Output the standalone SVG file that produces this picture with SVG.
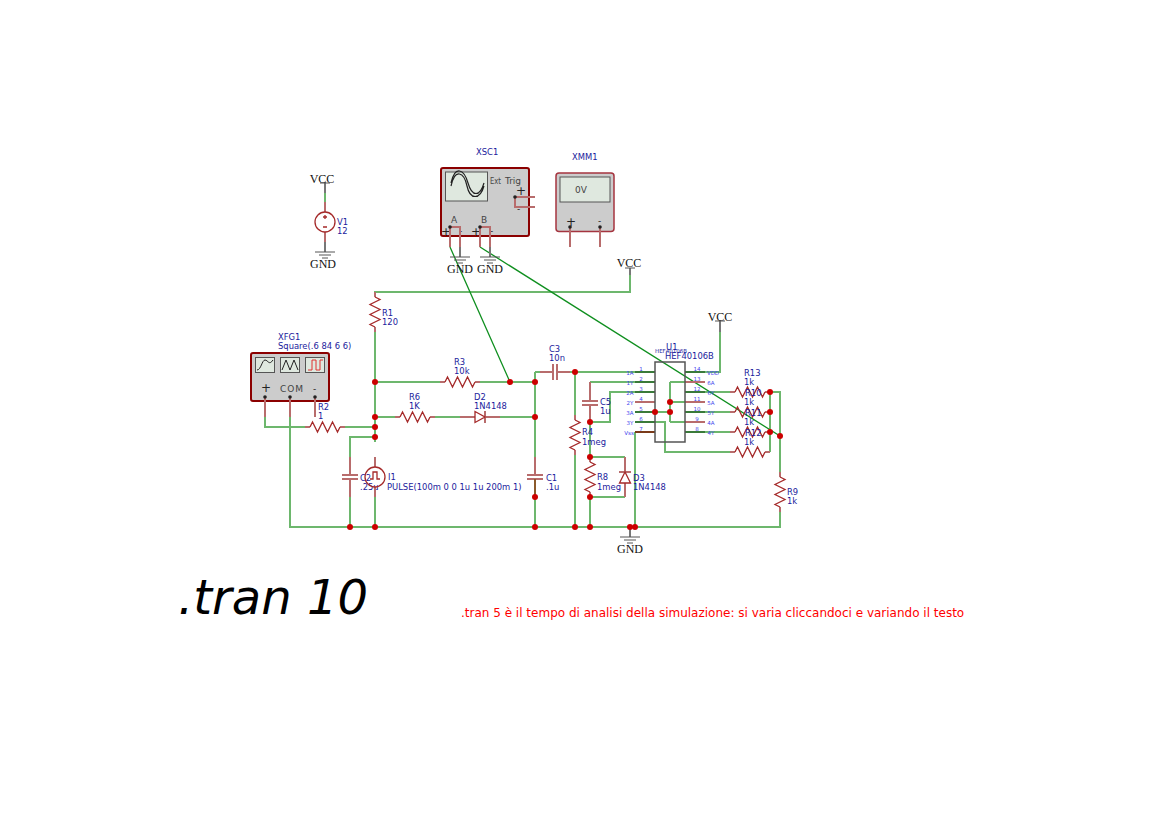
<svg xmlns="http://www.w3.org/2000/svg" xmlns:xlink="http://www.w3.org/1999/xlink" width="1169" height="828" viewBox="0 0 1169 828">
<style>
text{font-family:"DejaVu Sans",sans-serif;font-size:8.4px;fill:#1a1a9c}
.s{font-family:"Liberation Serif",serif;font-size:12px;fill:#111;text-anchor:middle}
.d{font-size:9px;fill:#444}
.n{font-size:5.5px;fill:#4444ee;text-anchor:middle}
.w{fill:none;stroke:#6db76d;stroke-width:2}
.t{fill:none;stroke:#0f8f1f;stroke-width:1.300}
.p{fill:none;stroke:#b86c6c;stroke-width:2}
.z{fill:none;stroke:#a52a2a;stroke-width:1.300}
.g{fill:none;stroke:#777;stroke-width:2}
.b{fill:none;stroke:#555;stroke-width:1}
.dp{fill:none;stroke:#3a7a3a;stroke-width:2}
.c{fill:#cc0000}
.k{fill:#222}
.i{fill:#ccc;stroke:#8b0000;stroke-width:2}
.sc{fill:#dfe8df;stroke:#555;stroke-width:1}
</style>
<defs>
<g id="res"><path d="M-5 0H0M30 0H35" class="p"/><path d="M0 0l2.500-5 5 10 5-10 5 10 5-10 5 10 2.500-5" class="z"/></g>
<g id="gnd"><path d="M-10 0H10M-6 3H6M-3 6H3" class="b"/></g>
</defs>
<rect width="1169" height="828" fill="#fff"/>
<g id="connectors">
<path class="w" d="M325 193V202M630 275V292H375V297M375 332V442M375 382H440M480 382H535M375 417H395M435 417H460M500 417H535M535 372V457M535 372H540M535 497V527M290 417V527H780V512M265 417V427H305M345 427H375M375 437H350V457M350 497V527M375 497V527"/>
<path class="w" d="M570 372H635M575 372V415M575 455V527M590 382H635M590 422H610V392H635M590 422V457H625M590 497H625M590 497V527M635 432V527M655 412H670M670 382V422M670 382H685M670 402H685M670 422H685M705 372H720V332M705 392H730M705 412H730M705 432H730M655 422H665V452H730M770 392V452M770 392H780V472"/>
<path class="t" d="M450 247L510 382M480 247L780 436"/>
<path class="g" d="M325 182V193M325 242V252M460 247V257M490 247V257M630 527V537M720 320V332M630 268V275"/>
</g>
<g id="V1"><path class="p" d="M325 202V212M325 232V242"/><circle cx="325" cy="222" r="10" fill="#fff" class="z"/><path class="z" d="M325 215V219M323 217H327M323 227H327"/><text x="337" y="225">V1</text><text x="337" y="234">12</text></g>
<g id="VCC1"><text class="s" x="322" y="183">VCC</text><path class="b" d="M320 183H330"/></g>
<g id="GND1"><use xlink:href="#gnd" x="325" y="252"/><text class="s" x="323" y="268">GND</text></g>
<g id="XSC1"><text x="476" y="155">XSC1</text><rect x="441" y="168" width="88" height="68" rx="2" class="i"/><rect x="445.500" y="172" width="42" height="29" class="sc"/><path d="M451 186C455 168 464 172 467 186S480 200 484 186M451 183C455 165 464 169 468 183S480 197 484 183" fill="none" stroke="#222" stroke-width="1.200"/><text class="d" x="490" y="184" textLength="11" lengthAdjust="spacingAndGlyphs">Ext</text><text class="d" x="505" y="184" textLength="16">Trig</text><text x="516" y="195" style="font-size:12px;fill:#222">+</text><text x="517" y="212" style="font-size:9px;fill:#222">-</text><text class="d" x="451" y="223">A</text><text class="d" x="481" y="223">B</text><text x="441" y="236" style="font-size:12px;fill:#222">+</text><text x="459" y="234" style="font-size:9px;fill:#222">-</text><text x="471" y="236" style="font-size:12px;fill:#222">+</text><text x="490" y="234" style="font-size:9px;fill:#222">-</text><path class="p" d="M515 197H535M515 197V207H535M450 227V247M450 227H460V247M480 227V247M480 227H490V247"/><circle cx="515" cy="197" r="1.800" class="k"/><circle cx="450" cy="227" r="1.800" class="k"/><circle cx="480" cy="227" r="1.800" class="k"/></g>
<g id="GND2"><use xlink:href="#gnd" x="460" y="257"/><text class="s" x="460" y="273">GND</text></g>
<g id="GND3"><use xlink:href="#gnd" x="490" y="257"/><text class="s" x="490" y="273">GND</text></g>
<g id="XMM1"><text x="572" y="160">XMM1</text><rect x="556" y="173" width="58" height="58.500" rx="3" fill="#ccc" stroke="#a5343f" stroke-width="1.500"/><rect x="560" y="177" width="50" height="25" class="sc"/><text class="d" x="575" y="193">0V</text><text x="566" y="226" style="font-size:12px;fill:#222">+</text><text x="598" y="224" style="font-size:9px;fill:#222">-</text><path class="p" d="M570 227V247M600 227V247"/><circle cx="570" cy="227" r="1.800" class="k"/><circle cx="600" cy="227" r="1.800" class="k"/></g>
<g id="VCC2"><text class="s" x="629" y="267">VCC</text><path class="b" d="M625 268H635"/></g>
<g id="R1"><use xlink:href="#res" transform="translate(375 297) rotate(90)"/><text x="382" y="316">R1</text><text x="382" y="325">120</text></g>
<g id="XFG1"><text x="278" y="340">XFG1</text><text x="278" y="349">Square(.6 84 6 6)</text><rect x="251" y="353" width="78" height="48" rx="2" class="i"/><rect x="255.500" y="357.500" width="19" height="15" class="sc"/><rect x="280.500" y="357.500" width="19" height="15" class="sc"/><rect x="305.500" y="357.500" width="19" height="15" class="sc"/><path d="M257 370C261 370 262 360 265 360S269 366 273 360" fill="none" stroke="#222"/><path d="M282 370L286 360L290 370L294 360L298 370" fill="none" stroke="#222"/><path d="M308 370H312V360H316V370H320V360H323" fill="none" stroke="#e03030"/><text x="261" y="392" style="font-size:12px;fill:#222">+</text><text class="d" x="280" y="392" textLength="23">COM</text><text x="313" y="392" style="font-size:9px;fill:#222">-</text><path class="p" d="M265 397V417M290 397V417M315 397V417"/><circle cx="265" cy="397" r="1.800" class="k"/><circle cx="290" cy="397" r="1.800" class="k"/><circle cx="315" cy="397" r="1.800" class="k"/></g>
<g id="R2"><use xlink:href="#res" x="310" y="427"/><text x="318" y="410">R2</text><text x="318" y="419">1</text></g>
<g id="R3"><use xlink:href="#res" x="445" y="382"/><text x="454" y="365">R3</text><text x="454" y="374">10k</text></g>
<g id="R6"><use xlink:href="#res" x="400" y="417"/><text x="409" y="400">R6</text><text x="409" y="409">1K</text></g>
<g id="D2"><path class="p" d="M460 417H475M485 417H500M485 411V423"/><path class="z" d="M475 411.500L485 417L475 422.500Z" fill="#fff"/><text x="474" y="400">D2</text><text x="474" y="409">1N4148</text></g>
<g id="C2"><path class="p" d="M350 457V475M350 479V497M342 475H358M342 479H358"/><text x="360" y="481">C2</text><text x="360" y="490">.25u</text></g>
<g id="I1"><path class="p" d="M375 457V467M375 487V497"/><path class="z" d="M370 479H373V472H377V479H380"/><circle cx="375" cy="477" r="10" class="z"/><text x="388" y="480">I1</text><text x="387" y="490">PULSE(100m 0 0 1u 1u 200m 1)</text></g>
<g id="C1"><path class="p" d="M535 457V475M527 475H543M527 479H543"/><path d="M535 479V497" fill="none" stroke="#8b5a2b" stroke-width="2"/><text x="546" y="481">C1</text><text x="546" y="490">.1u</text></g>
<g id="C3"><path class="p" d="M540 372H553M557 372H570M553 364V380M557 364V380"/><text x="549" y="352">C3</text><text x="549" y="361">10n</text></g>
<g id="C5"><path class="p" d="M590 382V401M590 405V422M582 401H598M582 405H598"/><text x="600" y="405">C5</text><text x="600" y="414">1u</text></g>
<g id="R4"><use xlink:href="#res" transform="translate(575 420) rotate(90)"/><text x="582" y="435">R4</text><text x="582" y="445">1meg</text></g>
<g id="R8"><use xlink:href="#res" transform="translate(590 462) rotate(90)"/><text x="597" y="480">R8</text><text x="597" y="490">1meg</text></g>
<g id="D3"><path class="p" d="M625 457V472M625 483V497M619 472H631"/><path class="z" d="M625 472L619.500 483H630.500Z"/><text x="633" y="481">D3</text><text x="633" y="490">1N4148</text></g>
<g id="U1">
<text x="666" y="350">U1</text><text x="655" y="353" style="font-size:5.500px">HEF40106B</text><text x="665" y="359">HEF40106B</text>
<path class="dp" d="M635 372H655M635 382H655M635 392H655M635 412H655M635 422H655M685 372H705M685 392H705M685 412H705M685 432H705"/>
<path class="p" d="M635 402H655M685 382H705M685 402H705M685 422H705"/>
<path d="M635 432H655" fill="none" stroke="#7a3a1a" stroke-width="2"/>
<rect x="655" y="362" width="30" height="80" fill="none" stroke="#555" stroke-width="1.500"/>
<text class="n" x="641" y="371">1</text><text class="n" x="641" y="381">2</text><text class="n" x="641" y="391">3</text><text class="n" x="641" y="401">4</text><text class="n" x="641" y="411">5</text><text class="n" x="641" y="421">6</text><text class="n" x="641" y="431">7</text>
<text class="n" x="697" y="371">14</text><text class="n" x="697" y="381">13</text><text class="n" x="697" y="391">12</text><text class="n" x="697" y="401">11</text><text class="n" x="697" y="411">10</text><text class="n" x="697" y="421">9</text><text class="n" x="697" y="431">8</text>
<text class="n" x="630" y="375">1A</text><text class="n" x="630" y="385">1Y</text><text class="n" x="630" y="395">2A</text><text class="n" x="630" y="405">2Y</text><text class="n" x="630" y="415">3A</text><text class="n" x="630" y="425">3Y</text><text class="n" x="629" y="435">Vss</text>
<text class="n" x="713" y="375">VDD</text><text class="n" x="711" y="385">6A</text><text class="n" x="711" y="395">6Y</text><text class="n" x="711" y="405">5A</text><text class="n" x="711" y="415">5Y</text><text class="n" x="711" y="425">4A</text><text class="n" x="711" y="435">4Y</text></g>
<g id="VCC3"><text class="s" x="720" y="321">VCC</text><path class="b" d="M715 321H725"/></g>
<g id="R10"><use xlink:href="#res" x="735" y="392"/><text x="745" y="396">R10</text><text x="744" y="405">1k</text></g>
<g id="R11"><use xlink:href="#res" x="735" y="412"/><text x="745" y="416">R11</text><text x="744" y="425">1k</text></g>
<g id="R12"><use xlink:href="#res" x="735" y="432"/><text x="745" y="436">R12</text><text x="744" y="445">1k</text></g>
<g id="R13"><use xlink:href="#res" x="735" y="452"/><text x="744" y="376">R13</text><text x="744" y="385">1k</text></g>
<g id="R9"><use xlink:href="#res" transform="translate(780 477) rotate(90)"/><text x="787" y="495">R9</text><text x="787" y="504">1k</text></g>
<g id="GND4"><use xlink:href="#gnd" x="630" y="537"/><text class="s" x="630" y="553">GND</text></g>
<g id="junctions">
<circle class="c" cx="375" cy="382" r="3"/><circle class="c" cx="375" cy="417" r="3"/><circle class="c" cx="375" cy="427" r="3"/><circle class="c" cx="375" cy="437" r="3"/><circle class="c" cx="510" cy="382" r="3"/><circle class="c" cx="535" cy="382" r="3"/><circle class="c" cx="535" cy="417" r="3"/><circle class="c" cx="535" cy="497" r="3"/><circle class="c" cx="350" cy="527" r="3"/><circle class="c" cx="375" cy="527" r="3"/><circle class="c" cx="535" cy="527" r="3"/><circle class="c" cx="575" cy="527" r="3"/><circle class="c" cx="590" cy="527" r="3"/><circle class="c" cx="630" cy="527" r="3"/><circle class="c" cx="635" cy="527" r="3"/><circle class="c" cx="575" cy="372" r="3"/><circle class="c" cx="590" cy="422" r="3"/><circle class="c" cx="590" cy="457" r="3"/><circle class="c" cx="590" cy="497" r="3"/><circle class="c" cx="655" cy="412" r="3"/><circle class="c" cx="670" cy="402" r="3"/><circle class="c" cx="670" cy="412" r="3"/><circle class="c" cx="770" cy="392" r="3"/><circle class="c" cx="770" cy="412" r="3"/><circle class="c" cx="770" cy="432" r="3"/><circle class="c" cx="780" cy="436" r="3"/>
</g>
<text x="178" y="614" style="font-size:48px;font-style:italic;fill:#000">.tran 10</text>
<text x="461" y="617" style="font-size:12px;fill:#ff0000">.tran 5 è il tempo di analisi della simulazione: si varia cliccandoci e variando il testo</text>
</svg>
